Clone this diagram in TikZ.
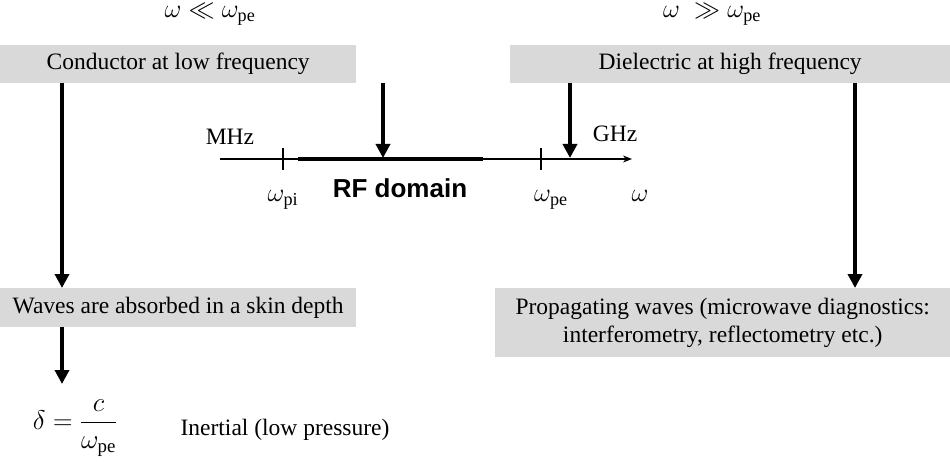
\RequirePackage{fix-cm}
\documentclass[tikz,border=0pt]{standalone}
\usepackage{amsmath}
\usepackage{fontspec}
\setmainfont{Liberation Serif}
\newfontfamily\sansb{Liberation Sans}
\usetikzlibrary{arrows.meta}
\begin{document}
\begin{tikzpicture}[x=1pt,y=-1pt,
  box/.style={fill=black!15,draw=none,inner sep=0,anchor=north west},
  txt/.style={font=\fontsize{23.5}{28}\selectfont},
  arr/.style={line width=4pt,-{Triangle[length=14pt,width=14pt]}},
  lab/.style={font=\fontsize{26}{30}\selectfont}]
\useasboundingbox (0,0) rectangle (950,476);
\node[box,minimum width=356pt,minimum height=38pt] (b1) at (0,45) {};
\node[txt] at (b1.center) (t1) {Conductor at low frequency};
\node[box,minimum width=440pt,minimum height=38pt] (b2) at (510,45) {};
\node[txt] at (b2.center) (t2) {Dielectric at high frequency};
\node[box,minimum width=356pt,minimum height=39pt] (b3) at (0,288) {};
\node[txt] at (b3.center) (t3) {Waves are absorbed in a skin depth};
\node[box,minimum width=455pt,minimum height=69pt] (b4) at (495,288) {};
\node[txt,align=center] at (b4.center) (t4) {Propagating waves (microwave diagnostics:\\interferometry, reflectometry etc.)};
\node[lab] (top1) at (210,14) {$\omega \ll \omega_{\mathrm{pe}}$};
\node[lab] (top2) at (712,14) {$\omega \;\gg \omega_{\mathrm{pe}}$};
% axis
\coordinate (a0) at (220,159);
\coordinate (a1) at (632,159);
\draw[line width=1.2pt,-{Stealth[length=9pt,width=7pt]}] (a0) -- (a1);
\coordinate (r0) at (298,159); \coordinate (r1) at (483,159);
\draw[line width=4pt] (r0) -- (r1);
\coordinate (k1) at (283,148); \coordinate (k1b) at (283,170);
\coordinate (k2) at (541,148); \coordinate (k2b) at (541,170);
\draw[line width=1.2pt] (k1) -- (k1b);
\draw[line width=1.2pt] (k2) -- (k2b);
\node[txt] (mhz) at (230,137) {MHz};
\node[txt] (ghz) at (615,134) {GHz};
\node[lab] (wpi) at (283,200) {$\omega_{\mathrm{pi}}$};
\node[lab] (wpe) at (551,200) {$\omega_{\mathrm{pe}}$};
\node[lab] (w) at (640,196) {$\omega$};
\node[font=\sansb\bfseries\fontsize{26}{30}\selectfont] (rf) at (400,188) {RF domain};
% arrows
\coordinate (p1) at (383,158); \coordinate (p2) at (570,158);
\draw[arr] (62,83) -- (62,288);
\draw[arr] (383,83) -- (p1);
\draw[arr] (570,83) -- (p2);
\draw[arr] (855,83) -- (855,288);
\coordinate (p3) at (62,384);
\draw[arr] (62,327) -- (p3);
\node[font=\fontsize{27}{30}\selectfont] (delta) at (75,428) {$\delta=\dfrac{c}{\omega_{\mathrm{pe}}}$};
\node[txt] (inert) at (285,430) {Inertial (low pressure)};
\end{tikzpicture}
\end{document}
